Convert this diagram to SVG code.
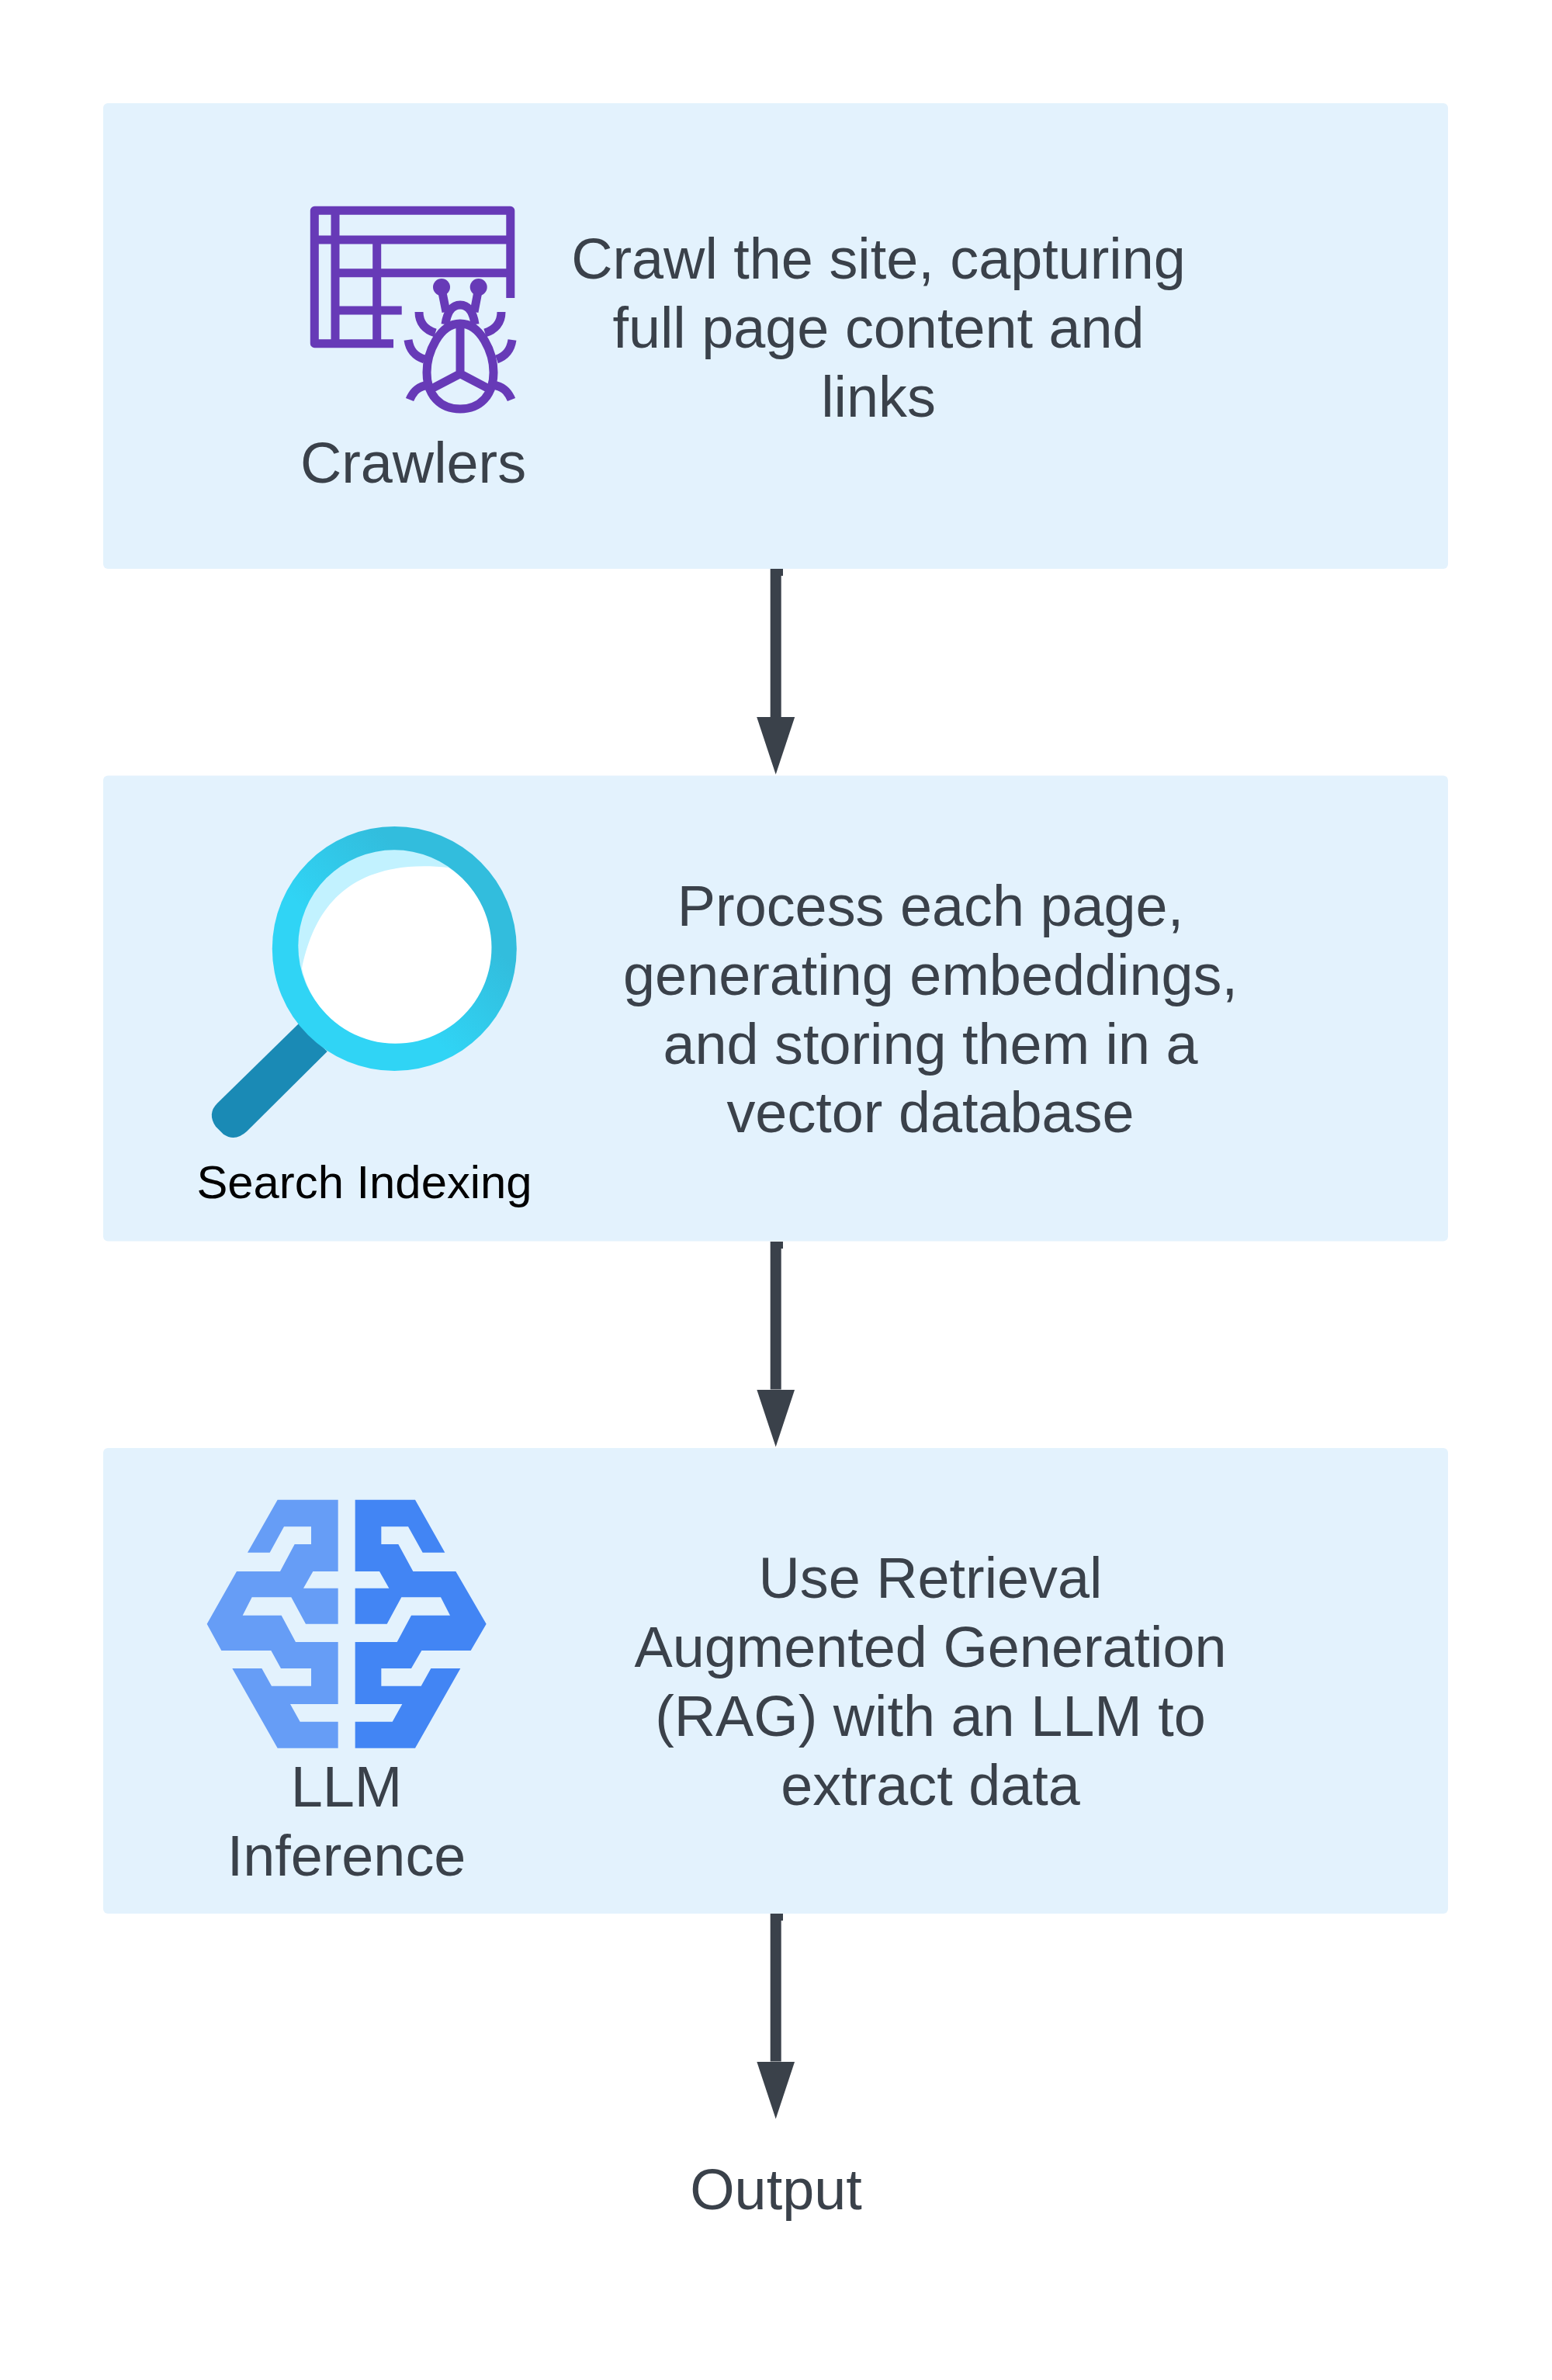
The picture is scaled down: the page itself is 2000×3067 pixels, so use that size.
<svg xmlns="http://www.w3.org/2000/svg" width="2000" height="3067" viewBox="0 0 2000 3067">
<style>
.box{fill:#e3f2fd}
text{font-family:"Liberation Sans",Arial,sans-serif;font-size:73.8px;fill:#3a414a;text-anchor:middle}
.small{font-size:59.8px;fill:#000}
.conn{stroke:#3a414a;stroke-width:14;fill:none;marker-end:url(#arrow)}
.stub{fill:#3a414a}
.bugs{fill:none;stroke:#673ab7;stroke-width:11}
</style>
<defs>
<marker id="arrow" markerUnits="userSpaceOnUse" markerWidth="74" markerHeight="50" refX="0" refY="25" orient="auto" viewBox="0 0 74 50"><path d="M0,0.5 L74,25 L0,49.5 Z" fill="#3a414a"/></marker>
<linearGradient id="ring" x1="0.15" y1="0.85" x2="0.85" y2="0.15"><stop offset="0.35" stop-color="#30d4f5"/><stop offset="0.8" stop-color="#32bddd"/></linearGradient>
</defs>
<rect width="2000" height="3067" fill="#fff"/>
<g id="connectors">
<line class="conn" x1="999.7" y1="733" x2="999.7" y2="924"/>
<rect class="stub" x="993" y="733" width="16" height="9"/>
<line class="conn" x1="999.7" y1="1600" x2="999.7" y2="1790.5"/>
<rect class="stub" x="993" y="1600" width="16" height="9"/>
<line class="conn" x1="999.7" y1="2466" x2="999.7" y2="2656.5"/>
<rect class="stub" x="993" y="2466" width="16" height="9"/>
</g>
<g id="crawlers">
<rect class="box" x="133" y="133" width="1733" height="600" rx="6"/>
<path class="bugs" stroke-linejoin="round" d="M657.8,384 V271.3 H405.3 V442.7 H507 M405.3,309 H657.8 M432,351.7 H657.8 M432,400 H517.7 M432,271.3 V442.7 M485.7,309 V442.7"/>
<g class="bugs">
<path d="M593,417 C566,417 550,455 550,480 C550,510 568,527 593,527 C618,527 636,510 636,480 C636,455 620,417 593,417 Z"/>
<path d="M593,417 V481.7 L558,500 M593,481.7 L628,500"/>
<path d="M569,372 L575,402 M616.7,372 L611,402 M574,418 C576,402 583,393 593,393 C603,393 610,402 612,418"/>
<path d="M540,402 C540,416 548,425 561,429 M646,402 C646,416 638,425 625,429 M526,438 C528,452 535,459 547,463 M660,438 C658,452 651,459 640,463 M528,515 C533,503 540,498 552,496 M659,515 C654,503 647,498 635,496"/>
</g>
<circle cx="569" cy="370" r="11" fill="#673ab7"/>
<circle cx="616.7" cy="370" r="11" fill="#673ab7"/>
<text x="532.5" y="622">Crawlers</text>
<text x="1132" y="358.5">Crawl the site, capturing</text>
<text x="1132" y="447.5">full page content and</text>
<text x="1132" y="536.5">links</text>
</g>
<g id="search-indexing">
<rect class="box" x="133" y="999.5" width="1733" height="600" rx="6"/>
<path fill="#1a8ab5" d="M385,1319 L280,1421.7 Q266.7,1435 278,1451.7 L288,1461.7 Q303,1471.7 318,1458 L421.7,1355 Z"/>
<circle cx="508.3" cy="1222.5" r="157.5" fill="url(#ring)"/>
<circle cx="508" cy="1219" r="123.7" fill="#c2f2ff"/>
<path fill="#fff" d="M389,1248 C405,1170 450,1105 578,1118 A123.7,123.7 0 1 1 389,1248 Z"/>
<text class="small" x="469.5" y="1543.5">Search Indexing</text>
<text x="1199" y="1192.5">Process each page,</text>
<text x="1199" y="1281.5">generating embeddings,</text>
<text x="1199" y="1370.5">and storing them in a</text>
<text x="1199" y="1459">vector database</text>
</g>
<g id="llm-inference">
<rect class="box" x="133" y="1866" width="1733" height="600" rx="6"/>
<g transform="translate(250,1910) scale(0.33333)">
<path fill="#669df6" d="M323,68 L557,68 L557,345 L460,345 L423,410 L557,410 L557,548 L432,548 L376,445 L224,445 L188,515 L338,515 L393,618 L557,618 L557,858 L372,858 L410,926 L557,926 L557,1028 L323,1028 L148,720 L262,720 L300,788 L453,788 L453,720 L336,720 L298,651 L106,651 L50,548 L165,345 L333,345 L389,240 L453,240 L453,172 L348,172 L293,272 L207,272 Z"/>
<path fill="#4285f4" d="M623,68 L855,68 L970,272 L884,272 L828,172 L724,172 L724,240 L790,240 L847,345 L1012,345 L1130,548 L1070,651 L880,651 L840,720 L724,720 L724,788 L878,788 L916,720 L1030,720 L855,1028 L623,1028 L623,926 L767,926 L805,858 L623,858 L623,618 L785,618 L840,515 L990,515 L954,445 L802,445 L746,548 L623,548 L623,410 L754,410 L717,345 L623,345 Z"/>
</g>
<text x="446.5" y="2328">LLM</text>
<text x="446.5" y="2417">Inference</text>
<text x="1199" y="2059">Use Retrieval</text>
<text x="1199" y="2148">Augmented Generation</text>
<text x="1199" y="2237">(RAG) with an LLM to</text>
<text x="1199" y="2326">extract data</text>
</g>
<g id="output">
<text x="1000" y="2847">Output</text>
</g>
</svg>
